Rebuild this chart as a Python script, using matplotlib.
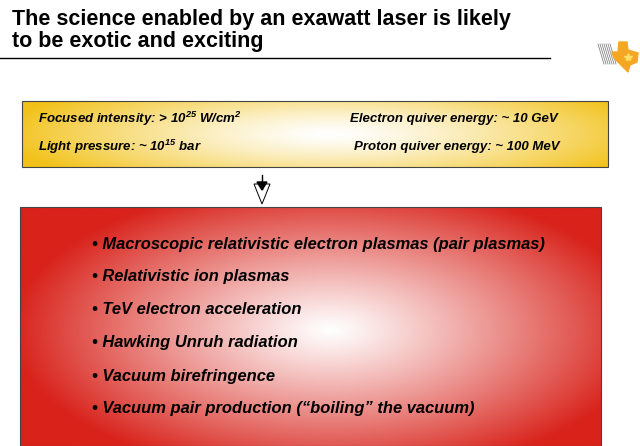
import numpy as np
import matplotlib
matplotlib.use("Agg")
import matplotlib.pyplot as plt
from matplotlib.colors import LinearSegmentedColormap
from matplotlib.patches import Rectangle, Polygon

title_lines = ["The science enabled by an exawatt laser is likely", "to be exotic and exciting"]
left_facts = [r"Focused intensity: > 10$^{\mathbf{25}}$ W/cm$^{\mathbf{2}}$", r"Light pressure: ~ 10$^{\mathbf{15}}$ bar"]
right_facts = ["Electron quiver energy: ~ 10 GeV", "Proton quiver energy: ~ 100 MeV"]
bullets = ["Macroscopic relativistic electron plasmas (pair plasmas)",
           "Relativistic ion plasmas",
           "TeV electron acceleration",
           "Hawking Unruh radiation",
           "Vacuum birefringence",
           "Vacuum pair production (\u201cboiling\u201d the vacuum)"]

plt.rcParams['font.family'] = ['Liberation Sans', 'DejaVu Sans']
plt.rcParams['mathtext.fontset'] = 'custom'
plt.rcParams['mathtext.it'] = 'Liberation Sans:italic:bold'
plt.rcParams['mathtext.rm'] = 'Liberation Sans:italic:bold'
plt.rcParams['mathtext.bf'] = 'Liberation Sans:italic:bold'

fig = plt.figure(figsize=(6.4, 4.46), dpi=100)
ax = fig.add_axes([0, 0, 1, 1])
ax.set_xlim(0, 640); ax.set_ylim(446, 0); ax.axis('off')

def grad_box(x0, x1, y0, y1, cx, cy, rx, ry, edge, power=1.0):
    xs = np.linspace(x0, x1, 300); ys = np.linspace(y0, y1, 200)
    X, Y = np.meshgrid(xs, ys)
    r = np.clip(np.sqrt(((X-cx)/rx)**2 + ((Y-cy)/ry)**2), 0, 1) ** power
    cm = LinearSegmentedColormap.from_list('g', ['#ffffff', edge])
    ax.imshow(r, extent=(x0, x1, y1, y0), cmap=cm, vmin=0, vmax=1, aspect='auto', zorder=1)
    ax.add_patch(Rectangle((x0, y0), x1-x0, y1-y0, fill=False, ec='#444444', lw=0.8, zorder=2))

# title
for i, t in enumerate(title_lines):
    ax.text(12, 20 + 22*i, t, fontsize=15.5, fontweight='bold', va='center', ha='left', color='black')
ax.plot([0, 550], [58, 58], color='black', lw=1.0)

# logo
for k in range(7):
    ax.plot([598+k*2, 604+k*2], [44, 64], color='#888888', lw=0.6)
ax.add_patch(Polygon([[612, 52], [618, 52], [619, 42], [627, 42], [628, 50], [638, 53], [637, 62],
                      [630, 65], [628, 72], [622, 66], [614, 58]], color='#F5A623', zorder=3))
ax.plot(628, 57, marker='*', color='#FFE066', ms=6, zorder=4)

# yellow box
grad_box(22, 608, 101, 167, 330, 134, 330, 60, '#F2C21A', power=1.3)
for i, t in enumerate(left_facts):
    ax.text(38, 119 + 28*i, t, fontsize=9.5, style='italic', fontweight='bold', va='center', zorder=3)
ax.text(350, 119, right_facts[0], fontsize=9.5, style='italic', fontweight='bold', va='center', zorder=3)
ax.text(354, 147, right_facts[1], fontsize=9.5, style='italic', fontweight='bold', va='center', zorder=3)

# arrow
ax.plot([262, 262], [175, 189], color='black', lw=1)
ax.add_patch(Polygon([[257, 182], [267, 182], [262, 190]], color='black'))
ax.add_patch(Polygon([[254, 184], [270, 184], [262, 204]], fill=False, ec='black', lw=0.7))

# red box
grad_box(20, 601, 207, 446, 330, 330, 320, 150, '#D8221A', power=1.1)
for i, t in enumerate(bullets):
    ax.text(92, 244 + 33*i, "\u2022 " + t, fontsize=11.9, style='italic', fontweight='bold', va='center', zorder=3)

fig.savefig('out.png', dpi=100)
